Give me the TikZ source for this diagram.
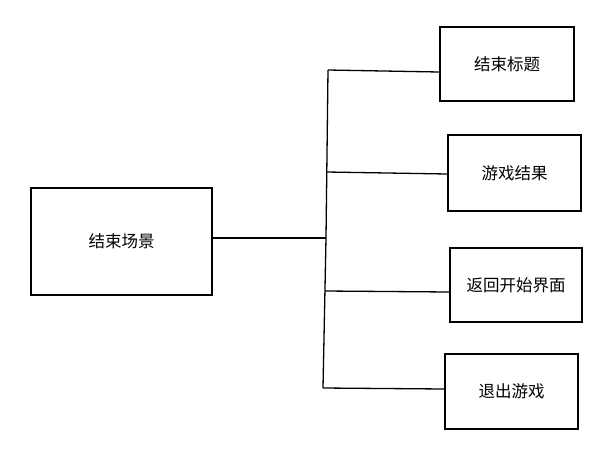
\documentclass[tikz,border=0pt]{standalone}
\usepackage{fontspec}
\newfontfamily\cjk{Noto Sans CJK SC}
\usetikzlibrary{positioning}

\begin{document}
\begin{tikzpicture}
  [
    x=1pt,y=-1pt,
    box/.style={draw,line width=1.4pt,inner sep=0pt,font=\cjk\fontsize{16.5}{19}\selectfont},
    link/.style={line width=1.3pt}
  ]
  \useasboundingbox (0,0) rectangle (606,467);
  % root
  \node[box,minimum width=181pt,minimum height=107pt] (scene) at (121.5,241.5) {结束场景};
  % children
  \node[box,minimum width=134pt,minimum height=74pt] (title) at (507,64) {结束标题};
  \node[box,minimum width=133pt,minimum height=76pt] (result) at (514.5,173) {游戏结果};
  \node[box,minimum width=132pt,minimum height=74pt] (back) at (516,285) {返回开始界面};
  \node[box,minimum width=133pt,minimum height=75pt] (quit) at (511.5,391.5) {退出游戏};
  % trunk
  \coordinate (top) at (328,70);
  \coordinate (mid) at (326,238);
  \coordinate (bot) at (323,388);
  \draw[link] (scene.east |- mid) -- (mid);
  \draw[link] (top) -- (mid) -- (bot);
  \draw[link] (top) -- (title.west |- 0,72);
  \draw[link] (327,172) -- (result.west |- 0,174);
  \draw[link] (325,291) -- (back.west |- 0,292);
  \draw[link] (bot) -- (quit.west |- 0,389);
\end{tikzpicture}
\end{document}
